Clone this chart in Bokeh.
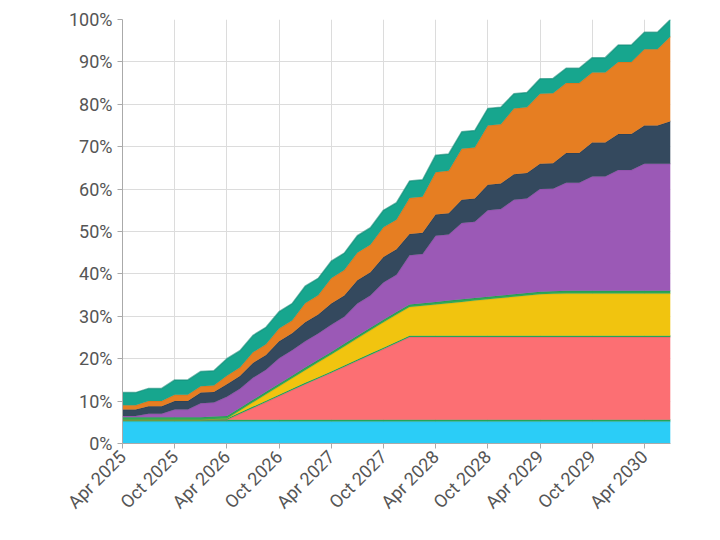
from bokeh.plotting import figure
from bokeh.embed import file_html
from bokeh.resources import INLINE
from bokeh.models import FixedTicker
import math

# quarters starting Apr 2025 (month index 0) up to Jul 2030
quarters = ["Apr 2025","Jul 2025","Oct 2025","Jan 2026","Apr 2026","Jul 2026","Oct 2026","Jan 2027",
            "Apr 2027","Jul 2027","Oct 2027","Jan 2028","Apr 2028","Jul 2028","Oct 2028","Jan 2029",
            "Apr 2029","Jul 2029","Oct 2029","Jan 2030","Apr 2030","Jul 2030"]
cyan   = [5.2]*22
green1 = [0.4]*22
red    = [0,0,0,0,0,2.8,5.6,8.4,11.1,13.9,16.7,19.5,19.5,19.5,19.5,19.5,19.5,19.5,19.5,19.5,19.5,19.5]
green2 = [0,0,0,0,0.3,0.3,0.3,0.3,0.3,0.3,0.3,0.3,0.3,0.3,0.3,0.3,0.3,0.3,0.3,0.3,0.3,0.3]
yellow = [0,0,0,0,0,1.0,2.0,3.0,4.0,5.0,6.0,6.8,7.4,8.0,8.6,9.2,9.8,10,10,10,10,10]
green3 = [0.6]*22
purple = [0.3,0.8,1.8,3.3,4.5,5.2,6.0,6.2,6.4,7.6,8.8,11.6,15.6,18.0,20.4,22.3,24.2,25.5,27,28.5,30,30]
navy   = [1.5,1.8,2,2.5,3,3.5,4,4.5,5,5.5,6,5,5,5.5,6,6,6,7,8,8.5,9,10]
orange = [1,1.2,1.5,1.5,2,2.5,3,4.5,6,6.5,7,8.5,10,12,14,15.5,16.5,16.5,16.5,17,18,20]
teal   = [3,3,3.5,3.5,4,4,4,4,4,4,4,4,4,4,4,3.5,3.5,3.5,3.5,4,4,4]

tick_labels = ["Apr 2025","Oct 2025","Apr 2026","Oct 2026","Apr 2027","Oct 2027",
               "Apr 2028","Oct 2028","Apr 2029","Oct 2029","Apr 2030"]

# (values, fill, edge, smooth)
layers = [(cyan,"#2bcdf7","#2ab3e0",True),(green1,"#27ae60","#1f8f4e",True),(red,"#fc6f73","#e05f65",True),
          (green2,"#27ae60","#1f8f4e",True),(yellow,"#f1c40f","#d8ae10",True),(green3,"#2fa856","#1f8f4e",True),
          (purple,"#9b59b6","#8a4ca3",False),(navy,"#34495e","#2c3e50",False),(orange,"#e67e22","#cf6f1c",False),
          (teal,"#17a68e","#128a76",False)]

n = len(quarters)
xs = []
for i in range(n):
    q = 3*i
    xs += [q, q+1.5] if i < n-1 else [q, q+0.01]

p = figure(width=700, height=522, output_backend="svg", toolbar_location=None,
           x_range=(0, 63.0), y_range=(0, 100),
           min_border_left=122, min_border_right=30, min_border_top=19, min_border_bottom=79)
base = [0.0]*len(xs)
for vals, col, edge, smooth in layers:
    pts = []
    for i, v in enumerate(vals):
        if smooth and i < n-1:
            pts += [v, (v + vals[i+1]) / 2]
        else:
            pts += [v, v]
    top = [b+v for b, v in zip(base, pts)]
    p.varea(x=xs, y1=base, y2=top, fill_color=col)
    p.line(x=xs, y=top, line_color=edge, line_width=1.5, line_alpha=0.6)
    base = top

p.outline_line_color = None
p.grid.grid_line_color = "#dcdcdc"
p.xaxis.ticker = FixedTicker(ticks=[6*i for i in range(len(tick_labels))])
p.xaxis.major_label_overrides = {6*i: t for i, t in enumerate(tick_labels)}
p.xaxis.major_label_orientation = math.pi/4
p.yaxis.ticker = FixedTicker(ticks=list(range(0, 101, 10)))
p.yaxis.major_label_overrides = {v: f"{v}%" for v in range(0, 101, 10)}
for ax in (p.xaxis, p.yaxis):
    ax.major_label_text_font = "Roboto"
    ax.major_label_text_font_size = "18px"
    ax.major_label_text_color = "#555555"
    ax.axis_line_color = "#aaaaaa"
    ax.major_tick_line_color = "#aaaaaa"
    ax.minor_tick_line_color = None
    ax.major_tick_out = 5
    ax.major_tick_in = 0
p.grid.level = "underlay"

open("out.html", "w").write(file_html(p, INLINE))
